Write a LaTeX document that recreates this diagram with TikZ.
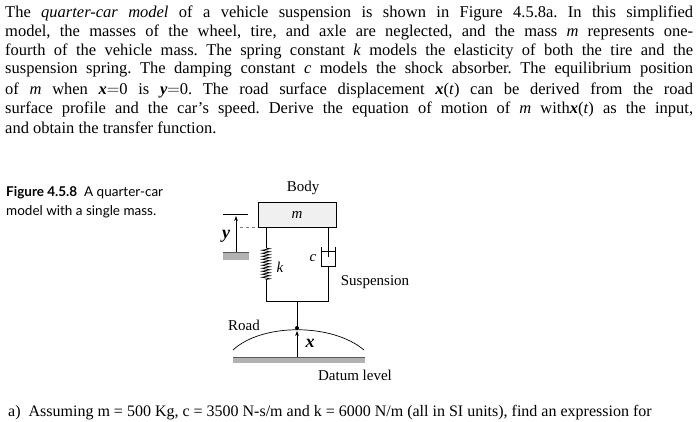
\documentclass[tikz,border=0pt]{standalone}
\usepackage{fontspec}
\setmainfont{Liberation Serif}
\newfontfamily\capfont{Lato}
\usetikzlibrary{arrows.meta,decorations.pathmorphing,patterns}
\begin{document}
\frenchspacing
\begin{tikzpicture}[x=1pt,y=-1pt,
  txt/.style={anchor=west,inner sep=0pt,font=\fontsize{16.5}{18}\selectfont},
  captxt/.style={anchor=west,inner sep=0pt,font=\capfont\fontsize{13.5}{15}\selectfont},
  lab/.style={inner sep=0pt,font=\fontsize{15}{16}\selectfont},
  ln/.style={line width=0.7pt},
  hx/.style={font=\bfseries\itshape\fontsize{18}{18}\selectfont}]
\useasboundingbox (0,0) rectangle (700,422);
\fill[white] (0,0) rectangle (700,422);
\newcommand\hx{\textbf{\textit{x}}}
\newcommand\hy{\textbf{\textit{y}}}
\node[txt] (l1) at (5,13) {\makebox[688pt][s]{The \textit{quarter-car model} of a vehicle suspension is shown in Figure 4.5.8a. In this simplified}};
\node[txt] (l2) at (5,32) {\makebox[688pt][s]{model, the masses of the wheel, tire, and axle are neglected, and the mass \textit{m} represents one-}};
\node[txt] (l3) at (5,51) {\makebox[688pt][s]{fourth of the vehicle mass. The spring constant \textit{k} models the elasticity of both the tire and the}};
\node[txt] (l4) at (5,70) {\makebox[688pt][s]{suspension spring. The damping constant \textit{c} models the shock absorber. The equilibrium position}};
\node[txt] (l5) at (5,90) {\makebox[688pt][s]{of \textit{m} when \hx$=$0 is \hy$=$0. The road surface displacement \hx(\textit{t}) can be derived from the road}};
\node[txt] (l6) at (5,109) {\makebox[688pt][s]{surface profile and the car's speed. Derive the equation of motion of \textit{m} with\hx(\textit{t}) as the input,}};
\node[txt] (l7) at (5,128) {and obtain the transfer function.};
\node[captxt] (c1) at (6,193) {\textbf{Figure 4.5.8}\ \ A quarter-car};
\node[captxt] (c2) at (6,212) {model with a single mass.};
\node[txt,font=\fontsize{16}{16}\selectfont] (qa) at (8,413) {a)\ \ Assuming m = 500 Kg, c = 3500 N-s/m and k = 6000 N/m (all in SI units), find an expression for};
% mass
\node[draw,ln,fill=gray!12,minimum width=78pt,minimum height=25pt,inner sep=0pt,font=\itshape\fontsize{15}{15}\selectfont] (m) at (297,214.5) {m};
\node[lab] (body) at (303,188) {Body};
\coordinate (sT) at (266,227);
\coordinate (dT) at (328,227);
\coordinate (bL) at (266,301);
\coordinate (bR) at (328,301);
\coordinate (bC) at (297,301);
\draw[ln] (sT) -- (266,248);
\draw[ln,decorate,decoration={zigzag,segment length=3pt,amplitude=4pt}] (266,248) -- (266,280);
\draw[ln] (266,280) -- (bL) -- (bR) -- (328,266);
\draw[ln] (dT) -- (328,257);
\draw[ln] (321,251) -- (335,251);
\draw[ln] (321,247) -- (321,266) -- (335,266) -- (335,247);
\node[lab,font=\itshape\fontsize{15}{15}\selectfont] (k) at (280,267) {k};
\node[lab,font=\itshape\fontsize{15}{15}\selectfont] (c) at (313,258) {c};
\node[lab] (susp) at (375,282) {Suspension};
% road
\coordinate (rd) at (297,328);
\draw[ln] (233,350) .. controls (262,323) and (332,323) .. (364,350);
\fill (rd) circle (2pt);
\draw[ln] (bC) -- (rd);
\fill[gray!60] (233,357) rectangle (365,363);
\draw[ln,gray!70!black] (233,357) -- (365,357);
\draw[ln,-{Stealth[length=5pt]}] (297,357) -- (297,331);
\node[hx] (xl) at (310,343) {x};
\node[lab] (road) at (244,325) {Road};
\node[lab] (dat) at (355,375) {Datum level};
% y indicator
\fill[gray!60] (223,252) rectangle (249,260);
\draw[ln,gray!70!black] (223,252) -- (249,252);
\draw[ln] (223,214) -- (248,214);
\draw[ln,-{Stealth[length=5pt]}] (236,252) -- (236,216);
\draw[gray,dashed] (240,227) -- (258,227);
\node[hx] (yl) at (226,236) {y};
\end{tikzpicture}
\end{document}
